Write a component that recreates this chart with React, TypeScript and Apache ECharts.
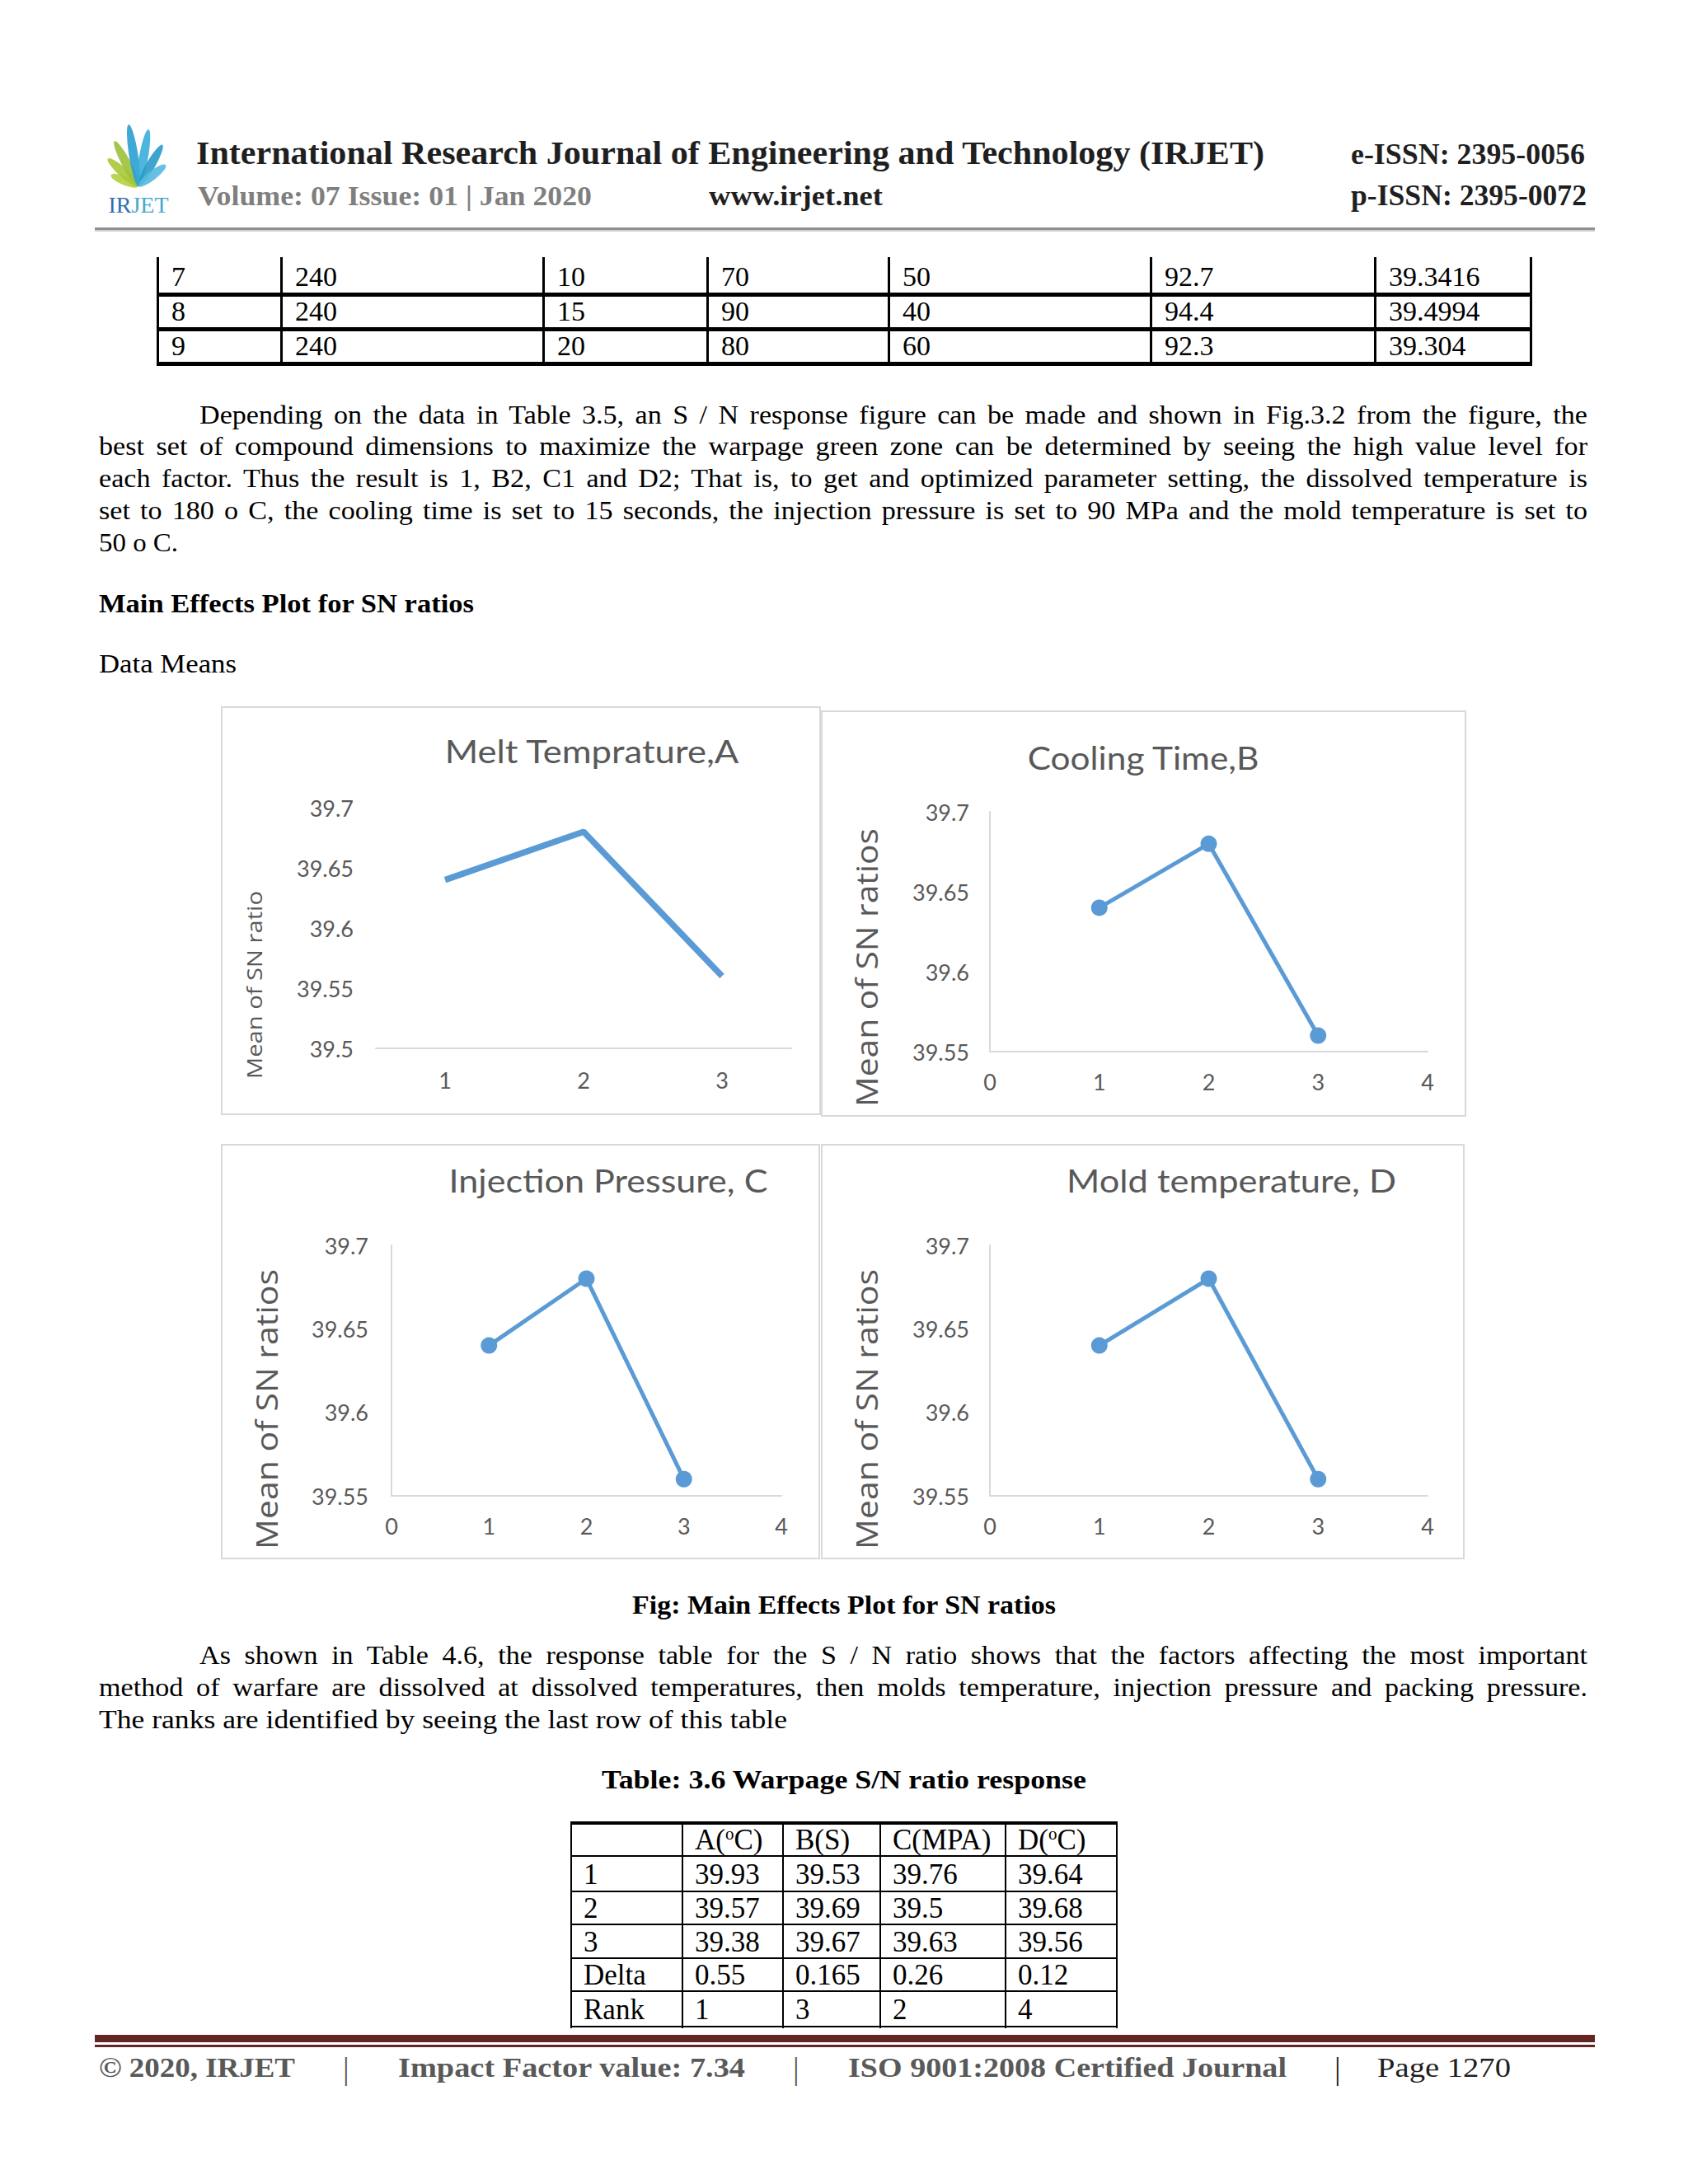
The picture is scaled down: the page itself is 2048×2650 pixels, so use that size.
import React, { useEffect, useLayoutEffect, useRef } from 'react';
import * as echarts from 'echarts';

// ---------------- data ----------------
const levels = [1, 2, 3];
const meltTemperatureSN = [39.64, 39.68, 39.56];
const coolingTimeSN = [39.64, 39.68, 39.56];
const injectionPressureSN = [39.64, 39.68, 39.56];
const moldTemperatureSN = [39.64, 39.68, 39.56];
const chartTitles = ['Melt Temprature,A', 'Cooling Time,B', 'Injection Pressure, C', 'Mold temperature, D'];
const yAxisTitles = ['Mean of SN ratio', 'Mean of SN ratios', 'Mean of SN ratios', 'Mean of SN ratios'];
const yRangeA = [39.5, 39.7];
const yRangeOthers = [39.55, 39.7];
const yStep = 0.05;
const xRange = [0, 4];

const table35Rows = [
  ['7', '240', '10', '70', '50', '92.7', '39.3416'],
  ['8', '240', '15', '90', '40', '94.4', '39.4994'],
  ['9', '240', '20', '80', '60', '92.3', '39.304'],
];
const table36Header = ['', 'A(oC)', 'B(S)', 'C(MPA)', 'D(oC)'];
const table36Rows = [
  ['1', '39.93', '39.53', '39.76', '39.64'],
  ['2', '39.57', '39.69', '39.5', '39.68'],
  ['3', '39.38', '39.67', '39.63', '39.56'],
  ['Delta', '0.55', '0.165', '0.26', '0.12'],
  ['Rank', '1', '3', '2', '4'],
];

const para1 = [
  'Depending on the data in Table 3.5, an S / N response figure can be made and shown in Fig.3.2 from the figure, the',
  'best set of compound dimensions to maximize the warpage green zone can be determined by seeing the high value level for',
  'each factor. Thus the result is 1, B2, C1 and D2; That is, to get and optimized parameter setting, the dissolved temperature is',
  'set to 180 o C, the cooling time is set to 15 seconds, the injection pressure is set to 90 MPa and the mold temperature is set to',
  '50 o C.',
];
const para2 = [
  'As shown in Table 4.6, the response table for the S / N ratio shows that the factors affecting the most important',
  'method of warfare are dissolved at dissolved temperatures, then molds temperature, injection pressure and packing pressure.',
  'The ranks are identified by seeing the last row of this table',
];

const SERIF = '"Liberation Serif", "Times New Roman", serif';

// ---------------- text helper ----------------
function Txt(props: any) {
  const { x, y, w, size, bold, color = '#000', align = 'left', justify = false, children, family = SERIF } = props;
  const ref = useRef<HTMLSpanElement>(null);
  useLayoutEffect(() => {
    const fit = () => {
      const el = ref.current;
      if (!el || !w) return;
      el.style.transform = 'none';
      el.style.wordSpacing = '0px';
      const nat = el.getBoundingClientRect().width;
      if (!nat) return;
      let sc = w / nat;
      if (justify && sc > 1.1) {
        // widen glyphs moderately, distribute the rest over the spaces
        const t = el.textContent || '';
        const spaces = (t.match(/ /g) || []).length;
        sc = 1.1;
        if (spaces > 0) {
          const rest = (w / sc - nat) / spaces;
          el.style.wordSpacing = rest + 'px';
        }
      }
      el.style.transform = `scaleX(${sc})`;
    };
    fit();
    const f: any = (document as any).fonts;
    if (f && f.ready) f.ready.then(fit);
  }, [w, justify]);
  const left = align === 'center' && w ? x - w / 2 : x;
  return (
    <span
      ref={ref}
      style={{
        position: 'absolute',
        left,
        top: y - size * 0.6,
        fontSize: size,
        lineHeight: size * 1.2 + 'px',
        fontFamily: family,
        fontWeight: bold ? 'bold' : 'normal',
        color,
        whiteSpace: 'pre',
        transformOrigin: '0 0',
        display: 'inline-block',
      }}
    >
      {children}
    </span>
  );
}

function withSup(s: string) {
  if (s.indexOf('(oC)') >= 0) {
    const pre = s.split('(oC)')[0];
    return (
      <>
        {pre}(<span style={{ fontSize: '0.6em', position: 'relative', top: '-0.55em' }}>o</span>C)
      </>
    );
  }
  return s;
}

function Line(props: any) {
  const { x, y, w, h, color = '#000' } = props;
  return <div style={{ position: 'absolute', left: x, top: y, width: w, height: h, background: color }} />;
}

function Logo() {
  const leaves = [
    { a: -68, l: 36, c: '#b4cf3f' },
    { a: -48, l: 50, c: '#a7c83a' },
    { a: -28, l: 62, c: '#9cc13a' },
    { a: -9, l: 76, c: '#2b9fcf' },
    { a: 10, l: 70, c: '#3aaedb' },
    { a: 30, l: 58, c: '#2a9bc6' },
    { a: 52, l: 42, c: '#56b9df' },
  ];
  return (
    <svg style={{ position: 'absolute', left: 112, top: 140 }} width={112} height={125} viewBox="0 0 112 125">
      {leaves.map((lf, i) => (
        <ellipse key={i} cx={56} cy={86 - lf.l / 2} rx={5.5} ry={lf.l / 2} fill={lf.c} transform={`rotate(${lf.a} 56 86)`} opacity={0.9} />
      ))}
      <text x={56} y={118} textAnchor="middle" fontFamily={SERIF} fontSize={28} fill="#3b8fc9">
        <tspan fill="#2f6fb0">IR</tspan>
        <tspan fill="#45a9cf">JET</tspan>
      </text>
    </svg>
  );
}

function measure(text: string, font: string) {
  const c = document.createElement('canvas').getContext('2d');
  if (!c) return 1;
  c.font = font;
  return c.measureText(text).width || 1;
}

// ---------------- figure ----------------
function Figure() {
  const ref = useRef<HTMLDivElement>(null);
  useEffect(() => {
    const chart = echarts.init(ref.current as HTMLDivElement, null, { renderer: 'svg' });
    const TOP = 840;
    const AX = '#d9d9d9';
    const LBL = '#595959';
    const BLUE = '#5b9bd5';
    const label = { color: LBL, fontSize: 27, fontFamily: 'Lato' };

    const panels = [
      { x: 269, y: 858, w: 726, h: 494 },
      { x: 997, y: 863, w: 781, h: 491 },
      { x: 269, y: 1389, w: 725, h: 502 },
      { x: 997, y: 1389, w: 779, h: 502 },
    ];
    const grids = [
      { left: 456, top: 980, width: 504, height: 292 },
      { left: 1201, top: 985, width: 531, height: 291 },
      { left: 475, top: 1511, width: 473, height: 304 },
      { left: 1201, top: 1511, width: 531, height: 304 },
    ];
    const titlePos = [
      { x: 718, y: 912, w: 358 },
      { x: 1387, y: 919, w: 282 },
      { x: 738, y: 1433, w: 387 },
      { x: 1494, y: 1433, w: 400 },
    ];
    const yTitlePos = [
      { x: 308, y: 1195, w: 228, s: 26 },
      { x: 1051, y: 1174, w: 338, s: 36 },
      { x: 323, y: 1710, w: 340, s: 36 },
      { x: 1051, y: 1710, w: 340, s: 36 },
    ];
    const seriesValues = [meltTemperatureSN, coolingTimeSN, injectionPressureSN, moldTemperatureSN];

    const graphic: any[] = [];
    panels.forEach((p) => {
      graphic.push({
        type: 'rect',
        shape: { x: p.x, y: p.y - TOP, width: p.w, height: p.h },
        style: { fill: 'none', stroke: AX, lineWidth: 2 },
        silent: true,
      });
    });
    chartTitles.forEach((t, i) => {
      const font = '38px Lato';
      const nat = measure(t, font);
      graphic.push({
        type: 'text',
        x: titlePos[i].x,
        y: titlePos[i].y - TOP,
        scaleX: titlePos[i].w / nat,
        style: { text: t, fill: LBL, fontSize: 38, fontFamily: 'Lato', align: 'center', verticalAlign: 'middle' },
      });
    });
    yAxisTitles.forEach((t, i) => {
      const p = yTitlePos[i];
      const nat = measure(t, `${p.s}px "Open Sans"`);
      graphic.push({
        type: 'text',
        x: p.x,
        y: p.y - TOP,
        rotation: Math.PI / 2,
        scaleX: p.w / nat,
        style: { text: t, fill: LBL, fontSize: p.s, fontFamily: 'Open Sans', align: 'center', verticalAlign: 'middle' },
      });
    });

    const xAxis: any[] = [];
    const yAxis: any[] = [];
    const series: any[] = [];
    grids.forEach((g, i) => {
      if (i === 0) {
        xAxis.push({
          type: 'category',
          gridIndex: 0,
          data: levels.map(String),
          boundaryGap: true,
          axisLine: { lineStyle: { color: AX, width: 2 } },
          axisTick: { show: false },
          axisLabel: { ...label, margin: 25 },
        });
        yAxis.push({
          type: 'value',
          gridIndex: 0,
          min: yRangeA[0],
          max: yRangeA[1],
          interval: yStep,
          axisLine: { show: false },
          axisTick: { show: false },
          splitLine: { show: false },
          axisLabel: { ...label, margin: 27 },
        });
        series.push({
          type: 'line',
          xAxisIndex: 0,
          yAxisIndex: 0,
          data: seriesValues[0],
          symbol: 'none',
          showSymbol: false,
          lineStyle: { color: BLUE, width: 7.5 },
          itemStyle: { color: BLUE },
        });
      } else {
        xAxis.push({
          type: 'value',
          gridIndex: i,
          min: xRange[0],
          max: xRange[1],
          interval: 1,
          axisLine: { show: true, onZero: false, lineStyle: { color: AX, width: 2 } },
          axisTick: { show: false },
          splitLine: { show: false },
          axisLabel: { ...label, margin: 23 },
        });
        yAxis.push({
          type: 'value',
          gridIndex: i,
          min: yRangeOthers[0],
          max: yRangeOthers[1],
          interval: yStep,
          axisLine: { show: true, onZero: false, lineStyle: { color: AX, width: 2 } },
          axisTick: { show: false },
          splitLine: { show: false },
          axisLabel: { ...label, margin: i === 2 ? 28 : 25 },
        });
        series.push({
          type: 'line',
          xAxisIndex: i,
          yAxisIndex: i,
          data: levels.map((l, k) => [l, seriesValues[i][k]]),
          symbol: 'circle',
          symbolSize: 20,
          showSymbol: true,
          lineStyle: { color: BLUE, width: 5 },
          itemStyle: { color: BLUE },
        });
      }
    });

    chart.setOption({
      animation: false,
      backgroundColor: 'transparent',
      grid: grids.map((g) => ({ ...g, top: g.top - TOP, containLabel: false })),
      xAxis,
      yAxis,
      series,
      graphic,
    });
    return () => chart.dispose();
  }, []);
  return <div ref={ref} style={{ position: 'absolute', left: 0, top: 840, width: 2048, height: 1070 }} />;
}

// ---------------- page ----------------
export default function App() {
  const t1Cols = [191, 341, 659, 858, 1078, 1396, 1668, 1857];
  const t1RowLines = [357, 399, 441];
  const t1Centers = [336, 378, 420];
  const t2Cols = [693, 828, 950, 1068, 1220, 1355];
  const t2Rows = [2212, 2252, 2295, 2335, 2376, 2416, 2459];

  const p1Y = [504, 542, 581, 620, 659];
  const p2Y = [2009, 2048, 2087];

  return (
    <div style={{ position: 'absolute', left: 0, top: 0, width: 2048, height: 2650, background: '#fff', overflow: 'hidden' }}>
      <Logo />
      <Txt x={238} y={186} w={1296} size={40} bold color="#1f1f1f">
        International Research Journal of Engineering and Technology (IRJET)
      </Txt>
      <Txt x={1639} y={188} w={284} size={36} bold color="#1f1f1f">e-ISSN: 2395-0056</Txt>
      <Txt x={240} y={238} w={478} size={34} bold color="#7f7f7f">Volume: 07 Issue: 01 | Jan 2020</Txt>
      <Txt x={860} y={238} w={211} size={34} bold color="#1f1f1f">www.irjet.net</Txt>
      <Txt x={1639} y={238} w={286} size={36} bold color="#1f1f1f">p-ISSN: 2395-0072</Txt>
      <Line x={115} y={276} w={1820} h={3} color="#8f8f8f" />
      <Line x={115} y={279} w={1820} h={2} color="#d0d0d0" />

      {/* table 3.5 continuation */}
      {t1Cols.map((cx, i) => (
        <Line key={'v' + i} x={cx - 1} y={312} w={2.5} h={131} />
      ))}
      {t1RowLines.map((ry, i) => (
        <Line key={'h' + i} x={190} y={ry - 2} w={1669} h={4.5} />
      ))}
      {table35Rows.map((row, r) =>
        row.map((cell, c) => (
          <Txt key={r + '-' + c} x={t1Cols[c] + 17} y={t1Centers[r]} size={34}>
            {cell}
          </Txt>
        ))
      )}

      {/* paragraph 1 */}
      {para1.map((ln, i) => (
        <Txt
          key={'p1' + i}
          x={i === 0 ? 242 : 120}
          y={p1Y[i]}
          w={i === 0 ? 1684 : i === para1.length - 1 ? 96 : 1806}
          justify={i !== para1.length - 1}
          size={31}
        >
          {ln}
        </Txt>
      ))}

      <Txt x={120} y={733} w={455} size={31} bold>Main Effects Plot for SN ratios</Txt>
      <Txt x={120} y={806} w={167} size={31}>Data Means</Txt>

      <Figure />

      <Txt x={1024} y={1948} w={514} size={31} bold align="center">Fig: Main Effects Plot for SN ratios</Txt>

      {para2.map((ln, i) => (
        <Txt
          key={'p2' + i}
          x={i === 0 ? 242 : 120}
          y={p2Y[i]}
          w={i === 0 ? 1684 : i === para2.length - 1 ? 835 : 1806}
          justify={i !== para2.length - 1}
          size={31}
        >
          {ln}
        </Txt>
      ))}

      <Txt x={1024} y={2160} w={588} size={31} bold align="center">Table: 3.6 Warpage S/N ratio response</Txt>

      {/* table 3.6 */}
      {t2Cols.map((cx, i) => (
        <Line key={'tv' + i} x={cx - 1.25} y={t2Rows[0] - 1.5} w={2.5} h={t2Rows[t2Rows.length - 1] - t2Rows[0] + 3} />
      ))}
      {t2Rows.map((ry, i) => (
        <Line key={'th' + i} x={t2Cols[0] - 1.25} y={ry - (i === 0 ? 2 : 1.25)} w={t2Cols[t2Cols.length - 1] - t2Cols[0] + 2.5} h={i === 0 ? 3.5 : 2.5} />
      ))}
      {[table36Header, ...table36Rows].map((row, r) =>
        row.map((cell, c) => (
          <Txt key={'t2' + r + '-' + c} x={t2Cols[c] + 15} y={(t2Rows[r] + t2Rows[r + 1]) / 2 + 1} size={35}>
            {withSup(cell)}
          </Txt>
        ))
      )}

      {/* footer */}
      <Line x={115} y={2469} w={1820} h={9} color="#632523" />
      <Line x={115} y={2481} w={1820} h={3} color="#632523" />
      <Txt x={120} y={2509} w={238} size={34} bold color="#595959">© 2020, IRJET</Txt>
      <Txt x={416} y={2511} size={38} color="#595959">|</Txt>
      <Txt x={483} y={2509} w={421} size={34} bold color="#595959">Impact Factor value: 7.34</Txt>
      <Txt x={962} y={2511} size={38} color="#595959">|</Txt>
      <Txt x={1029} y={2509} w={532} size={34} bold color="#595959">ISO 9001:2008 Certified Journal</Txt>
      <Txt x={1619} y={2511} size={38} color="#1f1f1f">|</Txt>
      <Txt x={1671} y={2509} w={162} size={34} color="#1f1f1f">Page 1270</Txt>
    </div>
  );
}
